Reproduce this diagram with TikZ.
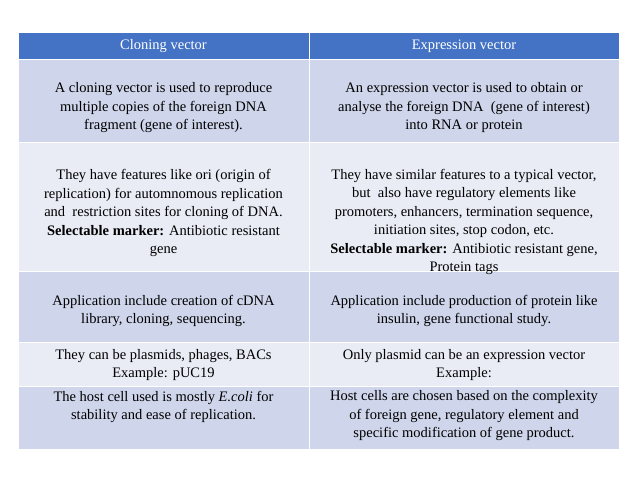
\documentclass[tikz,border=0pt]{standalone}
\usepackage{fontspec}
\setmainfont{Liberation Serif}
\definecolor{hdr}{HTML}{4472C4}
\definecolor{rowa}{HTML}{CFD5EA}
\definecolor{rowb}{HTML}{E9EBF5}
\begin{document}
\begin{tikzpicture}[x=1pt,y=-1pt,
  cellbox/.style={draw=white,line width=1pt},
  txt/.style={align=center,font=\fontsize{14.5}{18.5}\selectfont,inner sep=0pt},
  htxt/.style={txt,text=white}]
\useasboundingbox (0,0) rectangle (638,478);
\fill[white] (0,0) rectangle (638,478);
% header
\filldraw[cellbox,fill=hdr] (18,33) rectangle (309,60);
\filldraw[cellbox,fill=hdr] (309,33) rectangle (619,60);
\node[htxt] (h1) at (163.5,46.5) {Cloning vector};
\node[htxt] (h2) at (464,46.5) {Expression vector};
% rows
\filldraw[cellbox,fill=rowa] (18,60) rectangle (309,143);
\filldraw[cellbox,fill=rowa] (309,60) rectangle (619,143);
\filldraw[cellbox,fill=rowb] (18,143) rectangle (309,272);
\filldraw[cellbox,fill=rowb] (309,143) rectangle (619,272);
\filldraw[cellbox,fill=rowa] (18,272) rectangle (309,343);
\filldraw[cellbox,fill=rowa] (309,272) rectangle (619,343);
\filldraw[cellbox,fill=rowb] (18,343) rectangle (309,387);
\filldraw[cellbox,fill=rowb] (309,343) rectangle (619,387);
\filldraw[cellbox,fill=rowa] (18,387) rectangle (309,450);
\filldraw[cellbox,fill=rowa] (309,387) rectangle (619,450);
% texts
\node[txt] (a1) at (163.5,108) {A cloning vector is used to reproduce\\multiple copies of the foreign DNA\\fragment (gene of interest).};
\node[txt] (b1) at (464,108) {An expression vector is used to obtain or\\analyse the foreign DNA\ \ (gene of interest)\\into RNA or protein};
\node[txt] (a2) at (163.5,213) {They have features like ori (origin of\\replication) for automnomous replication\\and\ \ restriction sites for cloning of DNA.\\\textbf{Selectable marker:} Antibiotic resistant\\gene};
\node[txt] (b2) at (464,222) {They have similar features to a typical vector,\\but\ \ also have regulatory elements like\\promoters, enhancers, termination sequence,\\initiation sites, stop codon, etc.\\\textbf{Selectable marker:} Antibiotic resistant gene,\\Protein tags};
\node[txt] (a3) at (163.5,311) {Application include creation of cDNA\\library, cloning, sequencing.};
\node[txt] (b3) at (464,311) {Application include production of protein like\\insulin, gene functional study.};
\node[txt] (a4) at (163.5,365) {They can be plasmids, phages, BACs\\Example: pUC19};
\node[txt] (b4) at (464,365) {Only plasmid can be an expression vector\\Example:};
\node[txt] (a5) at (163.5,407) {The host cell used is mostly \textit{E.coli} for\\stability and ease of replication.};
\node[txt] (b5) at (464,416) {Host cells are chosen based on the complexity\\of foreign gene, regulatory element and\\specific modification of gene product.};
\end{tikzpicture}
\end{document}
